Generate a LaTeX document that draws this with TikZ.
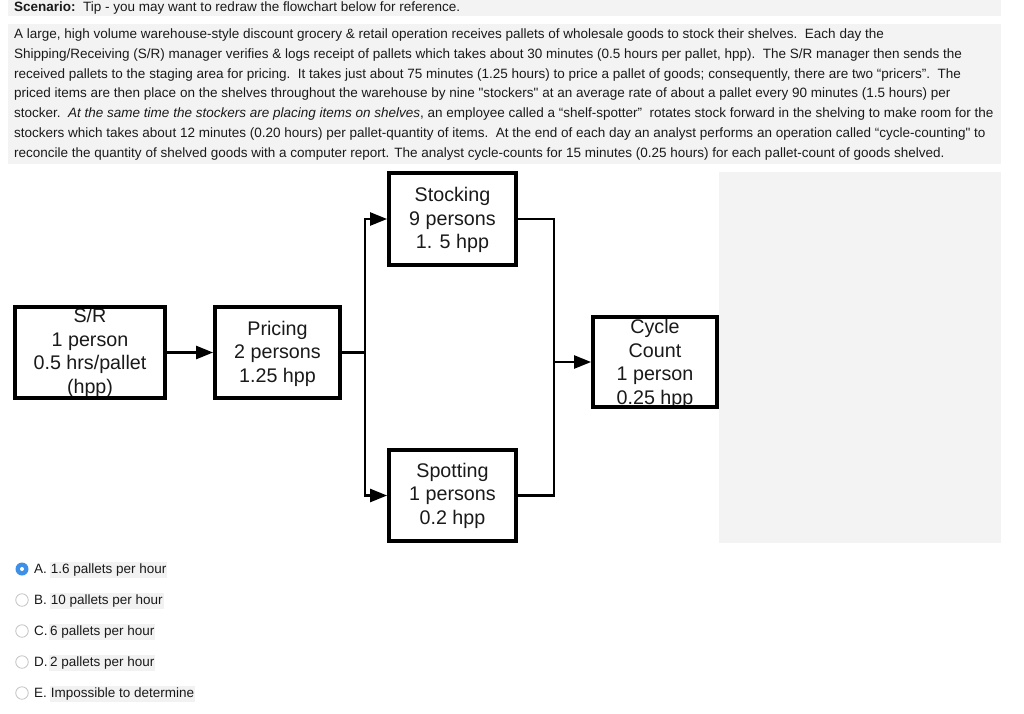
\documentclass[tikz,border=0pt]{standalone}
\usepackage{fontspec}
\setmainfont{Liberation Sans}[Ligatures=TeXOff]
\usetikzlibrary{arrows.meta}
\definecolor{bgg}{HTML}{F3F3F3}
\definecolor{hlg}{HTML}{F2F2F2}
\definecolor{radioblue}{HTML}{3D8FE8}
\definecolor{radiogray}{HTML}{C4C4C4}
\definecolor{ink}{HTML}{1A1A1A}
\begin{document}
\begin{tikzpicture}[x=1pt,y=-1pt,
  procbox/.style={draw=black, line width=3.8pt, minimum width=#1, inner sep=0pt},
  boxtext/.style={align=center, text=ink, font=\fontsize{19.7}{23.5}\selectfont, inner sep=0pt},
  conn/.style={draw=black, line width=2.4pt},
  arr/.style={conn, -{Triangle[length=17pt,width=13pt]}},
  para/.style={anchor=base west, inner sep=0pt, text=ink, font=\fontsize{13.5}{15}\selectfont},
  ans/.style={anchor=base west, inner sep=0pt, text=ink, font=\fontsize{13.5}{15}\selectfont},
  anshl/.style={anchor=base west, inner xsep=1pt, inner ysep=2pt, fill=hlg, text=ink, font=\fontsize{13.5}{15}\selectfont},
  radioon/.style={circle, fill=radioblue, minimum size=13pt, inner sep=0pt},
  radiooff/.style={circle, draw=radiogray, line width=0.8pt, fill=white, minimum size=12.5pt, inner sep=0pt},
  radiodot/.style={circle, fill=white, minimum size=4pt, inner sep=0pt}
]
\useasboundingbox (0,0) rectangle (1024,713);
\fill[white] (0,0) rectangle (1024,713);
% background bands
\fill[bgg] (8,0) rectangle (1001,16);
\fill[bgg] (8,24) rectangle (1001,164);
\fill[bgg] (719,172) rectangle (1001,543);
% header
\node[para] (hdr) at (14,11.5) {\textbf{Scenario:}\ \ Tip - you may want to redraw the flowchart below for reference.};
% paragraph
\node[para] (p1) at (14,38.5) {A large, high volume warehouse-style discount grocery \& retail operation receives pallets of wholesale goods to stock their shelves.\ \ Each day the};
\node[para] (p2) at (14,58.3) {Shipping/Receiving (S/R) manager verifies \& logs receipt of pallets which takes about 30 minutes (0.5 hours per pallet, hpp).\ \ The S/R manager then sends the};
\node[para] (p3) at (14,78.1) {received pallets to the staging area for pricing.\ \ It takes just about 75 minutes (1.25 hours) to price a pallet of goods; consequently, there are two “pricers”.\ \ The};
\node[para] (p4) at (14,97.9) {priced items are then place on the shelves throughout the warehouse by nine "stockers" at an average rate of about a pallet every 90 minutes (1.5 hours) per};
\node[para] (p5) at (14,117.7) {stocker.\ \ \textit{At the same time the stockers are placing items on shelves}, an employee called a “shelf-spotter”\ \ rotates stock forward in the shelving to make room for the};
\node[para] (p6) at (14,137.5) {stockers which takes about 12 minutes (0.20 hours) per pallet-quantity of items.\ \ At the end of each day an analyst performs an operation called “cycle-counting" to};
\node[para] (p7) at (14,157.3) {reconcile the quantity of shelved goods with a computer report. The analyst cycle-counts for 15 minutes (0.25 hours) for each pallet-count of goods shelved.};
% box texts (drawn first so borders overlay them)
\node[boxtext] (srt) at (90,353) {S/R\\1 person\\0.5 hrs/pallet\\(hpp)};
\node[boxtext] (prt) at (277.5,353.5) {Pricing\\2 persons\\1.25 hpp};
\node[boxtext] (stt) at (452.5,220) {Stocking\\9 persons\\1. 5 hpp};
\node[boxtext] (spt) at (452.5,495.5) {Spotting\\1 persons\\0.2 hpp};
\node[boxtext] (cct) at (655,364) {Cycle\\Count\\1 person\\0.25 hpp};
% boxes
\node[procbox=150pt, minimum height=91pt] (sr) at (90,352.5) {};
\node[procbox=125pt, minimum height=91pt] (pr) at (277.5,352.5) {};
\node[procbox=127pt, minimum height=92pt] (st) at (452.5,219) {};
\node[procbox=127pt, minimum height=91pt] (sp) at (452.5,495.5) {};
\node[procbox=124pt, minimum height=90pt] (cc) at (655,362) {};
% junctions
\coordinate (jl) at (365,352.5);
\coordinate (jr) at (554,362);
% connectors
\draw[arr] (sr.east) -- (pr.west);
\draw[conn] (pr.east) -- (jl);
\draw[arr] (jl) |- (st.west);
\draw[arr] (jl) |- (sp.west);
\draw[conn] (st.east) -| (jr);
\draw[conn] (sp.east) -| (jr);
\draw[arr] (jr) -- (cc.west);
% answers
\node[radioon] (ra) at (22,569) {};
\node[radiodot] (rad) at (ra.center) {};
\node[radiooff] (rb) at (22,600) {};
\node[radiooff] (rc) at (22,631) {};
\node[radiooff] (rd) at (22,662) {};
\node[radiooff] (re) at (22,693) {};
\node[ans] (la) at (34,573.5) {A.};
\node[anshl] (ta) at ([xshift=2.5pt]la.base east) {1.6 pallets per hour};
\node[ans] (lb) at (34,604.5) {B.};
\node[anshl] (tb) at ([xshift=2.5pt]lb.base east) {10 pallets per hour};
\node[ans] (lc) at (34,635.5) {C.};
\node[anshl] (tc) at ([xshift=1pt]lc.base east) {6 pallets per hour};
\node[ans] (ld) at (34,666.5) {D.};
\node[anshl] (td) at ([xshift=1pt]ld.base east) {2 pallets per hour};
\node[ans] (le) at (34,697.5) {E.};
\node[anshl] (te) at ([xshift=2.5pt]le.base east) {Impossible to determine};
\end{tikzpicture}
\end{document}
